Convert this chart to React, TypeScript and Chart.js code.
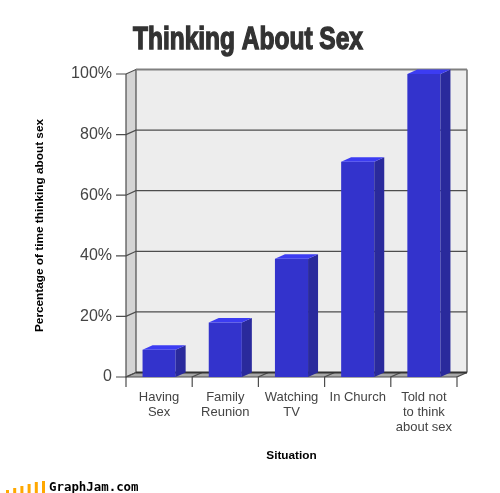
// App.tsx
import React, { useEffect, useRef } from 'react';
import Chart from 'chart.js/auto';

const CATEGORIES = [['Having', 'Sex'], ['Family', 'Reunion'], ['Watching', 'TV'], ['In Church'], ['Told not', 'to think', 'about sex']];
const PERCENTAGES = [9, 18, 39, 71, 100];
const LOGO_BARS = [3, 5, 7, 9, 11, 12];

const DEPTH_X = 10;
const DEPTH_Y = 4.5;
const FONT = '"Liberation Sans", Arial, sans-serif';

// draws the fake 3D walls and floor behind the bars
const wallsPlugin = {
  id: 'walls',
  beforeDatasetsDraw(chart: any) {
    const { ctx, chartArea: a, scales } = chart;
    const y = scales.y;
    ctx.save();

    ctx.fillStyle = '#ededed';
    ctx.fillRect(a.left + DEPTH_X, a.top - DEPTH_Y, a.width, a.height);

    // left wall
    ctx.fillStyle = '#d4d4d4';
    ctx.beginPath();
    ctx.moveTo(a.left, a.top);
    ctx.lineTo(a.left + DEPTH_X, a.top - DEPTH_Y);
    ctx.lineTo(a.left + DEPTH_X, a.bottom - DEPTH_Y);
    ctx.lineTo(a.left, a.bottom);
    ctx.fill();

    // floor
    ctx.fillStyle = '#a8a8a8';
    ctx.beginPath();
    ctx.moveTo(a.left, a.bottom);
    ctx.lineTo(a.left + DEPTH_X, a.bottom - DEPTH_Y);
    ctx.lineTo(a.right + DEPTH_X, a.bottom - DEPTH_Y);
    ctx.lineTo(a.right, a.bottom);
    ctx.fill();

    ctx.lineWidth = 1.2;
    ctx.strokeStyle = '#4d4d4d';
    y.ticks.forEach((t: any) => {
      const py = y.getPixelForValue(t.value);
      ctx.beginPath();
      ctx.moveTo(a.left - 10, py);
      ctx.lineTo(a.left, py);
      ctx.lineTo(a.left + DEPTH_X, py - DEPTH_Y);
      ctx.lineTo(a.right + DEPTH_X, py - DEPTH_Y);
      ctx.stroke();
    });

    // category ticks, one on each category boundary
    const step = a.width / CATEGORIES.length;
    for (let i = 0; i <= CATEGORIES.length; i++) {
      const px = a.left + step * i;
      ctx.beginPath();
      ctx.moveTo(px + DEPTH_X, a.bottom - DEPTH_Y);
      ctx.lineTo(px, a.bottom);
      ctx.lineTo(px, a.bottom + 10);
      ctx.stroke();
    }

    ctx.beginPath();
    ctx.moveTo(a.left, a.top);
    ctx.lineTo(a.left, a.bottom);
    ctx.lineTo(a.right, a.bottom);
    ctx.moveTo(a.left + DEPTH_X, a.top - DEPTH_Y);
    ctx.lineTo(a.left + DEPTH_X, a.bottom - DEPTH_Y);
    ctx.moveTo(a.right + DEPTH_X, a.top - DEPTH_Y);
    ctx.lineTo(a.right + DEPTH_X, a.bottom - DEPTH_Y);
    ctx.stroke();

    // dark back edge of the floor
    ctx.strokeStyle = '#333';
    ctx.lineWidth = 2;
    ctx.beginPath();
    ctx.moveTo(a.left + DEPTH_X, a.bottom - DEPTH_Y);
    ctx.lineTo(a.right + DEPTH_X, a.bottom - DEPTH_Y);
    ctx.stroke();

    ctx.strokeStyle = '#808080';
    ctx.beginPath();
    ctx.moveTo(a.left + DEPTH_X, a.top - DEPTH_Y);
    ctx.lineTo(a.right + DEPTH_X, a.top - DEPTH_Y);
    ctx.stroke();
    ctx.restore();
  },
  // side and top faces of each bar
  afterDatasetsDraw(chart: any) {
    const { ctx } = chart;
    ctx.save();
    chart.getDatasetMeta(0).data.forEach((bar: any) => {
      const left = bar.x - bar.width / 2;
      const right = bar.x + bar.width / 2;
      ctx.fillStyle = '#2a2a9c';
      ctx.beginPath();
      ctx.moveTo(right, bar.y);
      ctx.lineTo(right + DEPTH_X, bar.y - DEPTH_Y);
      ctx.lineTo(right + DEPTH_X, bar.base - DEPTH_Y);
      ctx.lineTo(right, bar.base);
      ctx.fill();
      ctx.fillStyle = '#3c3cf2';
      ctx.beginPath();
      ctx.moveTo(left, bar.y);
      ctx.lineTo(left + DEPTH_X, bar.y - DEPTH_Y);
      ctx.lineTo(right + DEPTH_X, bar.y - DEPTH_Y);
      ctx.lineTo(right, bar.y);
      ctx.fill();
    });
    ctx.restore();
  },
  // heading and site watermark
  afterDraw(chart: any) {
    const { ctx, height } = chart;
    ctx.save();
    LOGO_BARS.forEach((h, i) => {
      ctx.fillStyle = '#ffa800';
      ctx.fillRect(6 + i * 7.2, height - h, 3, h);
    });
    ctx.fillStyle = '#000';
    ctx.font = 'bold 12.4px "DejaVu Sans Mono", monospace';
    ctx.textBaseline = 'alphabetic';
    ctx.fillText('GraphJam.com', 49, height - 2);

    // squeezed bold heading, there is no condensed face to use
    ctx.translate(133, 49);
    ctx.scale(0.79, 1);
    ctx.font = `bold 31px ${FONT}`;
    ctx.fillStyle = '#333';
    ctx.strokeStyle = '#333';
    ctx.lineWidth = 1.4;
    ctx.fillText('Thinking About Sex', 0, 0);
    ctx.strokeText('Thinking About Sex', 0, 0);
    ctx.restore();
  },
};

const App: React.FC = () => {
  const chartRef = useRef<HTMLCanvasElement | null>(null);

  useEffect(() => {
    document.body.style.margin = '0';
    if (!chartRef.current) return;

    const chart = new Chart(chartRef.current, {
      type: 'bar',
      data: {
        labels: CATEGORIES as any,
        datasets: [
          {
            data: PERCENTAGES,
            backgroundColor: '#3333cc',
            barPercentage: 0.5,
            categoryPercentage: 1,
          },
        ],
      },
      plugins: [wallsPlugin],
      options: {
        responsive: false,
        animation: false,
        layout: { padding: { top: 74, right: 43, bottom: 0, left: 0 } },
        scales: {
          x: {
            grid: { display: false },
            border: { display: false },
            afterFit: (s: any) => { s.height = 116; },
            ticks: {
              color: '#444',
              padding: 5,
              maxRotation: 0,
              autoSkip: false,
              font: { family: FONT, size: 13, lineHeight: 1.15 },
            },
            title: {
              display: true,
              text: 'Situation',
              color: '#000',
              padding: { top: 0, bottom: 30 },
              font: { family: FONT, size: 11.8, weight: 'bold' },
            },
          },
          y: {
            min: 0,
            max: 100,
            grid: { display: false },
            border: { display: false },
            afterFit: (s: any) => { s.width = 126; },
            ticks: {
              stepSize: 20,
              color: '#444',
              padding: 6,
              font: { family: FONT, size: 16 },
              callback: (v: any) => (v === 0 ? '0' : `${v}%`),
            },
            title: {
              display: true,
              text: 'Percentage of time thinking about sex',
              color: '#000',
              padding: { top: 33, bottom: 0 },
              font: { family: FONT, size: 11.8, weight: 'bold' },
            },
          },
        },
        plugins: {
          legend: { display: false },
          tooltip: { enabled: false },
        },
      },
    });

    return () => chart.destroy();
  }, []);

  return <canvas ref={chartRef} width={500} height={493} style={{ display: 'block' }} />;
};

export default App;
